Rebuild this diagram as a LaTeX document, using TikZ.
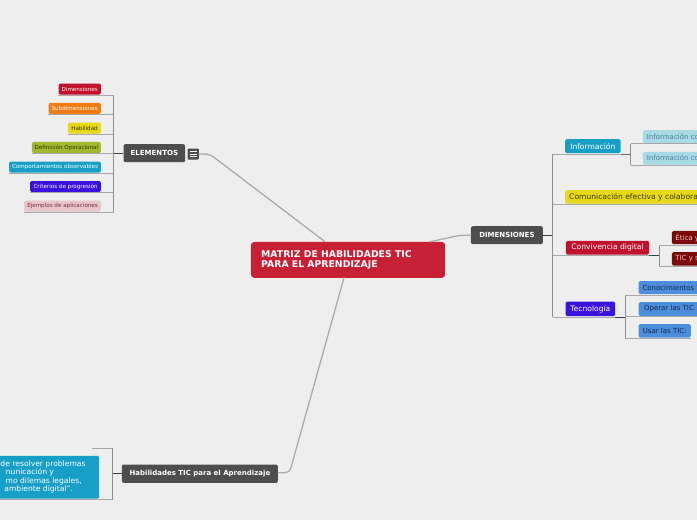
\documentclass[tikz,border=0pt]{standalone}
\usepackage{fontspec}
\setmainfont{DejaVu Sans}
\usetikzlibrary{calc}
\definecolor{bg}{HTML}{EEEEEE}
\definecolor{darkbox}{HTML}{4D4D4D}
\definecolor{centre}{HTML}{C72035}
\definecolor{crimson}{HTML}{C0122C}
\definecolor{orangeb}{HTML}{EF7B12}
\definecolor{yellowb}{HTML}{E6DA17}
\definecolor{oliveb}{HTML}{A0B82E}
\definecolor{tealb}{HTML}{179FC8}
\definecolor{violetb}{HTML}{3A12E0}
\definecolor{pinkb}{HTML}{E8C6CA}
\definecolor{pinktext}{HTML}{7A2A38}
\definecolor{lightblue}{HTML}{A8DAE6}
\definecolor{lbtext}{HTML}{4A7F95}
\definecolor{maroon}{HTML}{7B0A0A}
\definecolor{maroontext}{HTML}{F0C0C0}
\definecolor{midblue}{HTML}{4A8EDC}
\definecolor{mbtext}{HTML}{17264A}
\definecolor{darktext}{HTML}{3A3600}
\definecolor{mainline}{HTML}{ABABAB}
\definecolor{uline}{HTML}{A8A8A8}
\definecolor{bline}{HTML}{8E8E8E}
\definecolor{dline}{HTML}{3F3F3F}
\tikzset{
  bx/.style={anchor=north west, inner sep=0pt, rounded corners=1.5pt},
  lchild/.style={bx, minimum height=11pt, font=\fontsize{5.6}{6}\selectfont},
  lvtwo/.style={bx, minimum height=14pt, font=\fontsize{7.6}{8}\selectfont},
  lvthree/.style={bx, minimum height=13pt, font=\fontsize{7}{8}\selectfont},
  darkn/.style={bx, fill=darkbox, text=white, rounded corners=2pt, font=\bfseries\fontsize{7}{8}\selectfont},
  mline/.style={draw=mainline, line width=1.3pt, line cap=round},
  ul/.style={draw=uline, line width=0.9pt},
  br/.style={draw=bline, line width=0.9pt},
  dl/.style={draw=dline, line width=0.9pt},
}
\begin{document}
\begin{tikzpicture}[x=1pt,y=-1pt]
\useasboundingbox (0,0) rectangle (697,520);
\fill[bg] (0,0) rectangle (697,520);
\begin{scope}
\clip (0,0) rectangle (697,520);

% centre
\node[bx, fill=centre, rounded corners=3.5pt, minimum width=194.3pt, minimum height=36pt] (centre) at (250.7,241.7) {};
\node[anchor=north west, inner sep=0pt, text=white, align=left, font=\bfseries\fontsize{9.3}{10.2}\selectfont] (title) at (261,250.3) {MATRIZ DE HABILIDADES TIC\\PARA EL APRENDIZAJE};

% ELEMENTOS
\node[darkn, minimum width=61.7pt, minimum height=18pt] (elem) at (123.3,144) {ELEMENTOS};
\node[bx, fill=darkbox, rounded corners=1pt, minimum width=11.4pt, minimum height=11pt] (icon) at (187.3,148.3) {};
\foreach \dy in {-2.6,0,2.6}
  \draw[white, line width=0.9pt] ($(icon.center)+(-3.3,\dy)$) -- ($(icon.center)+(3.3,\dy)$);

\node[lchild, fill=crimson, text=white, minimum width=42.4pt] (c1) at (58.3,83.3) {Dimensiones};
\node[lchild, fill=orangeb, text=white, minimum width=52.4pt] (c2) at (48.3,102.6) {Subdimensiones};
\node[lchild, fill=yellowb, text=darktext, minimum width=33.3pt] (c3) at (67.7,122.3) {Habilidad};
\node[lchild, fill=oliveb, text=darktext, minimum width=69pt] (c4) at (31.7,141.7) {Definición Operacional};
\node[lchild, fill=tealb, text=white, minimum width=91.7pt] (c5) at (9,161.3) {Comportamientos observables};
\node[lchild, fill=violetb, text=white, minimum width=70.7pt] (c6) at (30,180.8) {Criterios de progresión};
\node[lchild, fill=pinkb, text=pinktext, minimum width=76.7pt] (c7) at (24,200.3) {Ejemplos de aplicaciones};

\coordinate (lb) at (113.5,153);
\foreach \c in {c1,c2,c3,c4,c5,c6,c7}
  \draw[ul] ($(\c.south west)+(0,0.6)$) -- ($(\c.south west -| lb)+(0,0.6)$);
\draw[br] ($(c1.south west -| lb)+(0,0.6)$) -- ($(c7.south west -| lb)+(0,0.6)$);
\draw[dl] (elem.west) -- (elem.west -| lb);

% main connectors
\coordinate (ea) at ($(icon.east)+(4,0)$);
\coordinate (eb) at ($(icon.east)+(16.5,4.5)$);
\coordinate (ec) at (325,241.7);
\draw[mline] (icon.east) -- (ea) .. controls +(5,0) and +(-5,-3.8) .. (eb) -- (ec);

% DIMENSIONES
\node[darkn, minimum width=72pt, minimum height=18pt] (dims) at (470.7,226) {DIMENSIONES};
\coordinate (da) at (430,241.7);
\coordinate (db) at (457,235.9);
\draw[mline] (da) -- (db) .. controls (460,235.2) .. (dims.west);

\coordinate (rb) at (552.7,235);
\draw[dl] (dims.east) -- (dims.east -| rb);

\node[lvtwo, fill=tealb, text=white, minimum width=55.3pt] (info) at (565,139) {Información};
\node[lvtwo, fill=yellowb, text=darktext, minimum height=13.3pt, inner xsep=4pt] (comu) at (565,190) {Comunicación efectiva y colaboración};
\node[lvtwo, fill=crimson, text=white, minimum width=83.3pt, minimum height=13.6pt] (conv) at (565.7,240.7) {Convivencia digital};
\node[lvtwo, fill=violetb, text=white, minimum width=49.7pt, minimum height=14.7pt] (tecn) at (565.3,301.3) {Tecnología};

\draw[br] ($(info.south west -| rb)+(0,0.8)$) -- ($(tecn.south west -| rb)+(0,0.6)$);
\draw[ul] ($(info.south west -| rb)+(0,0.8)$) -- ($(info.south east)+(0,0.8)$);
\draw[ul] ($(comu.south west -| rb)+(0,0.8)$) -- ($(comu.south east)+(0,0.8)$);
\draw[ul] ($(conv.south west -| rb)+(0,0.6)$) -- ($(conv.south east)+(0,0.6)$);
\draw[ul] ($(tecn.south west -| rb)+(0,0.6)$) -- ($(tecn.south east)+(0,0.6)$);

% Informacion children
\coordinate (ib) at (630.7,154);
\node[lvthree, fill=lightblue, text=lbtext, minimum height=12.7pt, inner xsep=4pt] (i1) at (642.7,130) {Información como fuente};
\node[lvthree, fill=lightblue, text=lbtext, minimum height=12.6pt, inner xsep=4pt] (i2) at (642.7,151.7) {Información como producto};
\draw[dl, draw=dline!80] ($(info.south east)+(0,0.8)$) -- ($(info.south east -| ib)+(0,0.8)$);
\draw[br] ($(i1.south west -| ib)+(0,0.6)$) -- ($(i2.south west -| ib)+(0,0.6)$);
\draw[ul] ($(i1.south west -| ib)+(0,0.6)$) -- ($(i1.south east)+(0,0.6)$);
\draw[ul] ($(i2.south west -| ib)+(0,0.6)$) -- ($(i2.south east)+(0,0.6)$);

% Convivencia children
\coordinate (cb) at (659,255);
\node[lvthree, fill=maroon, text=maroontext, minimum height=13.3pt, inner xsep=3.5pt] (v1) at (671.7,230.7) {Ética y autocuidado};
\node[lvthree, fill=maroon, text=maroontext, minimum height=13.3pt, inner xsep=3.5pt] (v2) at (671.7,252) {TIC y sociedad};
\draw[dl] ($(conv.south east)+(0,0.6)$) -- ($(conv.south east -| cb)+(0,0.6)$);
\draw[br] ($(v1.south west -| cb)+(0,0.6)$) -- ($(v2.south west -| cb)+(0,0.6)$);
\draw[ul] ($(v1.south west -| cb)+(0,0.6)$) -- ($(v1.south east)+(0,0.6)$);
\draw[ul] ($(v2.south west -| cb)+(0,0.6)$) -- ($(v2.south east)+(0,0.6)$);

% Tecnologia children
\coordinate (tb) at (625.3,316);
\node[lvthree, fill=midblue, text=mbtext, inner xsep=4pt] (t1) at (638.3,281) {Conocimientos TIC};
\node[lvthree, fill=midblue, text=mbtext, minimum width=61pt, minimum height=13.7pt, inner xsep=4pt] (t2) at (638.3,302) {Operar las TIC};
\node[lvthree, fill=midblue, text=mbtext, minimum width=52.4pt, minimum height=13.3pt] (t3) at (638.3,324) {Usar las TIC:};
\draw[dl] ($(tecn.south east)+(0,0.6)$) -- ($(tecn.south east -| tb)+(0,0.6)$);
\draw[br] ($(t1.south west -| tb)+(0,0.6)$) -- ($(t3.south west -| tb)+(0,0.6)$);
\draw[ul] ($(t1.south west -| tb)+(0,0.6)$) -- ($(t1.south east)+(0,0.6)$);
\draw[ul] ($(t2.south west -| tb)+(0,0.6)$) -- ($(t2.south east)+(0,0.6)$);
\draw[ul] ($(t3.south west -| tb)+(0,0.6)$) -- ($(t3.south east)+(0,0.6)$);

% Habilidades TIC para el Aprendizaje
\node[darkn, minimum width=156pt, minimum height=18.4pt] (hab) at (121.7,464.3) {Habilidades TIC para el Aprendizaje};
\coordinate (ha) at (344,277.7);
\coordinate (hb) at (292,464);
\coordinate (hc) at (284,472.8);
\draw[mline] (ha) -- (hb) .. controls (290,471.5) .. (hc) -- (hc -| hab.east);

\coordinate (hbk) at (112.3,474);
\draw[dl] (hab.west) -- (hab.west -| hbk);
\node[bx, fill=tealb, minimum width=112pt, minimum height=42.8pt] (def) at (-13,455.7) {};
\coordinate (top) at (91.7,448.3);
\draw[ul] (top) -- (top -| hbk);
\draw[ul] ($(def.south west)+(0,0.7)$) -- ($(def.south west -| hbk)+(0,0.7)$);
\draw[br] (top -| hbk) -- ($(def.south west -| hbk)+(0,0.7)$);
\begin{scope}[every node/.style={anchor=base west, inner sep=0pt, text=white, font=\fontsize{7.6}{8}\selectfont}]
\node (d1) at (0.3,466.2) {de resolver problemas};
\node (d2) at (5.7,474.7) {nunicación y};
\node (d3) at (5.5,483.2) {mo dilemas legales,};
\node (d4) at (1.8,491.7) {\ ambiente digital”.};
\end{scope}
\end{scope}
\end{tikzpicture}
\end{document}
